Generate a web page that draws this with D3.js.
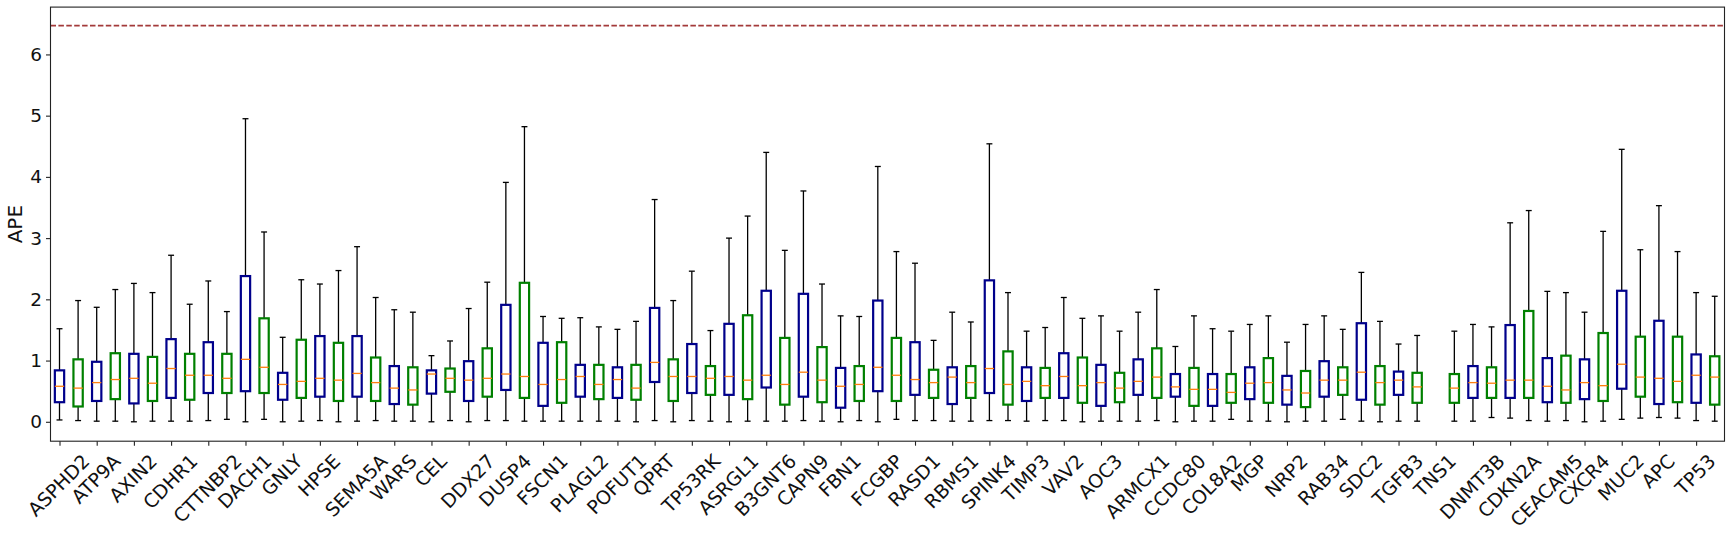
<!DOCTYPE html>
<html>
<head>
<meta charset="utf-8">
<script src="https://cdn.jsdelivr.net/npm/d3@7"></script>
<style>
  html, body { margin: 0; padding: 0; background: #fff; }
  svg { display: block; font-family: "DejaVu Sans", sans-serif; }
</style>
</head>
<body>
<svg id="chart" width="1731" height="533"></svg>
<script>
// ---------------- DATA ----------------
const genes = ["ASPHD2","ATP9A","AXIN2","CDHR1","CTTNBP2","DACH1","GNLY","HPSE","SEMA5A","WARS",
  "CEL","DDX27","DUSP4","FSCN1","PLAGL2","POFUT1","QPRT","TP53RK","ASRGL1","B3GNT6",
  "CAPN9","FBN1","FCGBP","RASD1","RBMS1","SPINK4","TIMP3","VAV2","AOC3","ARMCX1",
  "CCDC80","COL8A2","MGP","NRP2","RAB34","SDC2","TGFB3","TNS1","DNMT3B","CDKN2A",
  "CEACAM5","CXCR4","MUC2","APC","TP53"];

// Blue series (null = no data)
const blueLow  = [0.03,0.01,0.00,0.01,0.02,0.00,0.00,0.02,0.01,0.01,0.00,0.00,0.02,0.01,0.01,0.01,0.02,0.02,0.00,0.01,0.02,0.00,0.00,0.02,0.01,0.02,0.01,0.02,0.01,0.01,0.00,0.01,0.01,0.00,0.01,0.01,0.01,null,0.01,0.06,0.01,0.00,0.04,0.07,0.02];
const blueQ1   = [0.32,0.34,0.30,0.39,0.47,0.50,0.36,0.41,0.41,0.29,0.46,0.34,0.52,0.26,0.41,0.39,0.65,0.47,0.44,0.56,0.41,0.23,0.50,0.44,0.29,0.47,0.34,0.39,0.26,0.44,0.41,0.26,0.37,0.28,0.41,0.36,0.44,null,0.39,0.39,0.32,0.37,0.54,0.29,0.31];
const blueMed  = [0.58,0.64,0.71,0.87,0.76,1.02,0.61,0.71,0.79,0.55,0.78,0.68,0.78,0.61,0.74,0.69,0.97,0.74,0.74,0.76,0.81,0.58,0.89,0.69,0.73,0.87,0.66,0.74,0.64,0.66,0.57,0.53,0.63,0.52,0.68,0.81,0.68,null,0.64,0.68,0.58,0.64,0.94,0.71,0.76];
const blueQ3   = [0.84,0.98,1.11,1.35,1.30,2.38,0.80,1.40,1.40,0.91,0.84,0.99,1.91,1.29,0.93,0.89,1.86,1.27,1.60,2.14,2.09,0.88,1.98,1.30,0.89,2.31,0.89,1.12,0.93,1.02,0.78,0.78,0.89,0.75,0.99,1.61,0.82,null,0.91,1.58,1.04,1.02,2.14,1.65,1.10];
const blueHigh = [1.52,1.87,2.26,2.72,2.30,4.95,1.38,2.25,2.86,1.83,1.08,1.85,3.91,1.72,1.70,1.51,3.63,2.46,3.00,4.40,3.77,1.73,4.17,2.59,1.79,4.54,1.48,2.03,1.73,1.79,1.23,1.52,1.59,1.30,1.73,2.44,1.27,null,1.59,3.25,2.13,1.79,4.45,3.53,2.11];

// Green series
const greenLow  = [0.02,0.01,0.01,0.01,0.04,0.04,0.01,0.00,0.02,0.01,0.02,0.02,0.01,0.01,0.01,0.00,0.00,0.01,0.01,0.01,0.01,0.02,0.04,0.02,0.01,0.02,0.02,0.00,0.01,0.02,0.01,0.04,0.01,0.01,0.04,0.00,0.01,0.01,0.07,0.02,0.02,0.01,0.06,0.06,0.01];
const greenQ1   = [0.25,0.37,0.34,0.36,0.47,0.47,0.39,0.34,0.34,0.28,0.49,0.41,0.39,0.31,0.37,0.36,0.34,0.44,0.37,0.28,0.32,0.34,0.34,0.39,0.39,0.28,0.39,0.31,0.32,0.39,0.26,0.31,0.31,0.24,0.44,0.28,0.31,0.31,0.39,0.39,0.31,0.34,0.41,0.32,0.28];
const greenMed  = [0.55,0.69,0.63,0.76,0.71,0.89,0.66,0.68,0.64,0.52,0.71,0.71,0.74,0.69,0.61,0.55,0.74,0.71,0.68,0.61,0.68,0.61,0.76,0.64,0.64,0.61,0.59,0.59,0.55,0.73,0.53,0.48,0.64,0.47,0.68,0.64,0.57,0.55,0.63,0.68,0.52,0.59,0.73,0.66,0.73];
const greenQ3   = [1.02,1.12,1.06,1.11,1.11,1.69,1.34,1.29,1.05,0.89,0.87,1.20,2.27,1.30,0.93,0.93,1.02,0.91,1.74,1.37,1.22,0.91,1.37,0.85,0.91,1.15,0.88,1.05,0.80,1.20,0.88,0.78,1.04,0.83,0.89,0.91,0.80,0.78,0.89,1.81,1.08,1.45,1.39,1.39,1.07];
const greenHigh = [1.98,2.16,2.11,1.92,1.80,3.10,2.32,2.47,2.03,1.79,1.32,2.28,4.82,1.69,1.55,1.64,1.98,1.49,3.36,2.80,2.25,1.72,2.78,1.33,1.63,2.11,1.54,1.69,1.48,2.16,1.73,1.48,1.73,1.59,1.51,1.64,1.41,1.48,1.55,3.45,2.11,3.11,2.81,2.78,2.05];

const yTicks = [0,1,2,3,4,5,6];
const refLine = 6.47;
const yLabel = "APE";

// ---------------- LAYOUT ----------------
const W = 1731, H = 533;
const plot = { left: 50.5, right: 1724.5, top: 7.1, bottom: 441.2 };
const FS_Y = 18.5;
const FS_X = 19;
const FS_LABEL = 20;

const svg = d3.select("#chart");
svg.append("rect").attr("width", W).attr("height", H).attr("fill", "#fff");

const x = d3.scaleLinear().domain([-0.242, genes.length - 1 + 0.763]).range([plot.left, plot.right]);
const y = d3.scaleLinear().domain([-0.317, 6.773]).range([plot.bottom, plot.top]);

const boxW = 0.25, capW = 0.16;

function buildSeries(low, q1, med, q3, high, offset, color) {
  return genes.map((g, i) => ({
    pos: i + offset, low: low[i], q1: q1[i], med: med[i], q3: q3[i], high: high[i], color
  })).filter(d => d.med !== null);
}
const series = [
  ...buildSeries(blueLow, blueQ1, blueMed, blueQ3, blueHigh, 0, "#00008b"),
  ...buildSeries(greenLow, greenQ1, greenMed, greenQ3, greenHigh, 0.5, "#008000")
];

const g = svg.append("g");
const boxes = g.selectAll("g.box").data(series).join("g").attr("class", "box");

// whiskers
boxes.append("line")
  .attr("x1", d => x(d.pos)).attr("x2", d => x(d.pos))
  .attr("y1", d => y(d.q3)).attr("y2", d => y(d.high))
  .attr("stroke", "#000").attr("stroke-width", 1.3);
boxes.append("line")
  .attr("x1", d => x(d.pos)).attr("x2", d => x(d.pos))
  .attr("y1", d => y(d.q1)).attr("y2", d => y(d.low))
  .attr("stroke", "#000").attr("stroke-width", 1.3);
// caps
boxes.append("line")
  .attr("x1", d => x(d.pos - capW / 2)).attr("x2", d => x(d.pos + capW / 2))
  .attr("y1", d => y(d.high)).attr("y2", d => y(d.high))
  .attr("stroke", "#000").attr("stroke-width", 1.3);
boxes.append("line")
  .attr("x1", d => x(d.pos - capW / 2)).attr("x2", d => x(d.pos + capW / 2))
  .attr("y1", d => y(d.low)).attr("y2", d => y(d.low))
  .attr("stroke", "#000").attr("stroke-width", 1.3);
// box
boxes.append("rect")
  .attr("x", d => x(d.pos - boxW / 2))
  .attr("width", d => x(d.pos + boxW / 2) - x(d.pos - boxW / 2))
  .attr("y", d => y(d.q3))
  .attr("height", d => y(d.q1) - y(d.q3))
  .attr("fill", "none").attr("stroke", d => d.color).attr("stroke-width", 2.2);
// median
boxes.append("line")
  .attr("x1", d => x(d.pos - boxW / 2)).attr("x2", d => x(d.pos + boxW / 2))
  .attr("y1", d => y(d.med)).attr("y2", d => y(d.med))
  .attr("stroke", "#ff7f0e").attr("stroke-width", 1.3);

// reference dashed line
svg.append("line")
  .attr("x1", plot.left).attr("x2", plot.right)
  .attr("y1", y(refLine)).attr("y2", y(refLine))
  .attr("stroke", "#a33a3a").attr("stroke-width", 1.6)
  .attr("stroke-dasharray", "5.5,2.4");

// frame
svg.append("rect")
  .attr("x", plot.left).attr("y", plot.top)
  .attr("width", plot.right - plot.left).attr("height", plot.bottom - plot.top)
  .attr("fill", "none").attr("stroke", "#222").attr("stroke-width", 1.1);

// y axis
const yAxis = d3.axisLeft(y).tickValues(yTicks).tickSize(4.5).tickPadding(4).tickFormat(d3.format("d"));
const ya = svg.append("g").attr("transform", `translate(${plot.left},0)`).call(yAxis);
ya.select(".domain").remove();
ya.selectAll(".tick line").attr("stroke", "#222").attr("stroke-width", 1.1);
ya.selectAll(".tick text").attr("font-size", FS_Y).attr("fill", "#111")
  .attr("font-family", "DejaVu Sans");

// x axis
const xAxis = d3.axisBottom(x).tickValues(genes.map((d, i) => i)).tickSize(4.5).tickFormat(i => genes[i]);
const xa = svg.append("g").attr("transform", `translate(0,${plot.bottom})`).call(xAxis);
xa.select(".domain").remove();
xa.selectAll(".tick line").attr("stroke", "#222").attr("stroke-width", 1.1);
xa.selectAll(".tick text")
  .attr("font-size", FS_X).attr("fill", "#111").attr("font-family", "DejaVu Sans")
  .attr("text-anchor", "middle").attr("dominant-baseline", "central")
  .attr("y", null).attr("dy", null)
  .each(function () {
    const w = this.getComputedTextLength();
    const h = FS_X * 0.73;
    const cy = 11.5 + 0.7071 * (w + h) / 2;
    d3.select(this).attr("transform", `translate(-1.5,${cy}) rotate(-45)`);
  });

// y label
svg.append("text")
  .attr("transform", `translate(14.7,${(plot.top + plot.bottom) / 2}) rotate(-90)`)
  .attr("text-anchor", "middle").attr("dominant-baseline", "central")
  .attr("font-size", FS_LABEL).attr("fill", "#111").text(yLabel);
</script>
</body>
</html>
